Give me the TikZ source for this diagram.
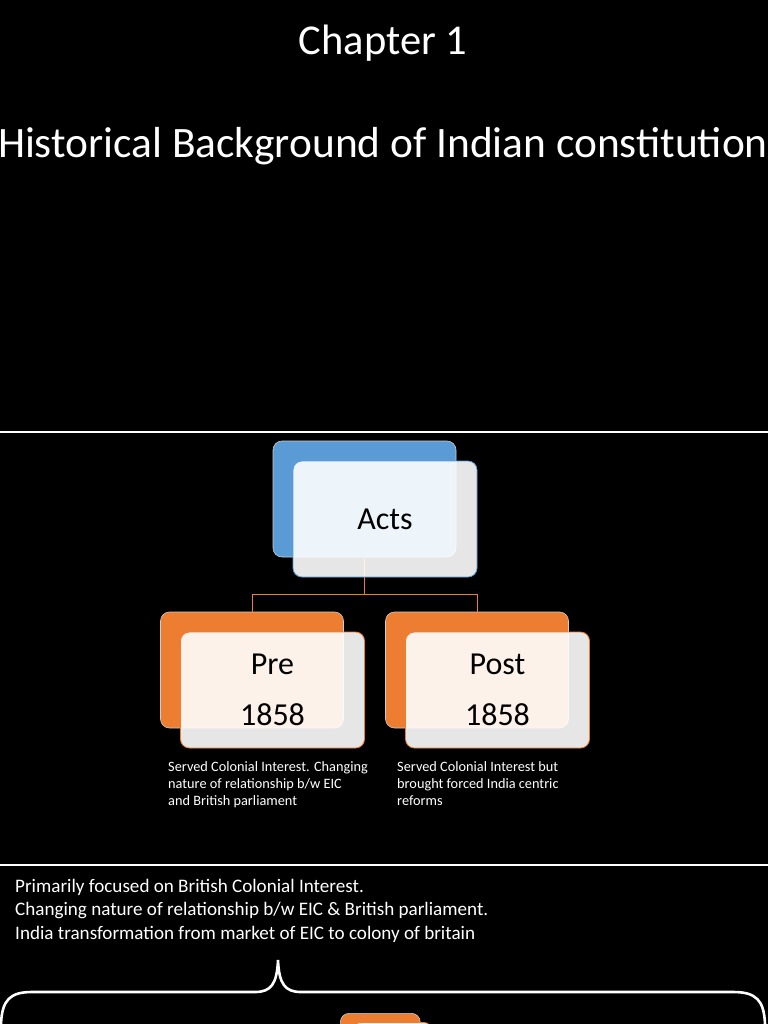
\documentclass[tikz,border=0pt]{standalone}
\usepackage{fontspec}
\setmainfont{Carlito}
\usetikzlibrary{positioning}
\definecolor{accentblue}{HTML}{5B9BD5}
\definecolor{accentorange}{HTML}{ED7D31}
\tikzstyle{backbox}=[rectangle,rounded corners=9pt,minimum width=183pt,minimum height=116pt,inner sep=0pt,draw=white!80!black,line width=0.6pt]
\tikzstyle{frontbox}=[rectangle,rounded corners=9pt,minimum width=184pt,minimum height=116pt,inner sep=0pt,fill=white,fill opacity=0.9,text opacity=1,line width=0.8pt,align=center,font=\fontsize{32}{51}\selectfont]
\tikzstyle{note}=[anchor=north west,inner sep=0pt,text=white,align=left,font=\fontsize{14.3}{17}\selectfont]
\tikzstyle{link}=[draw=accentorange,line width=0.9pt]
\tikzstyle{rule}=[draw=white,line width=1.3pt]

\begin{document}
\begin{tikzpicture}[x=1pt,y=-1pt]
\useasboundingbox (0,0) rectangle (768,1024);
\fill[black] (0,0) rectangle (768,1024);
\node[anchor=base,text=white,font=\fontsize{42.5}{50}\selectfont] (chapter) at (383,55) {Chapter 1};
\node[anchor=base,text=white,font=\fontsize{43.4}{50}\selectfont] (title) at (383,158) {Historical Background of Indian constitution};
\draw[rule] (0,432) -- (768,432);
\draw[rule] (0,865) -- (768,865);
% acts tree
\node[backbox,fill=accentblue] (actsback) at (364.5,499) {};
\node[backbox,fill=accentorange] (preback) at (252,670) {};
\node[backbox,fill=accentorange] (postback) at (477,670) {};
\coordinate (split) at ([shift={(0,37)}]actsback.south);
\draw[link] (actsback.south) -- (split) -| (preback.north);
\draw[link] (split) -| (postback.north);
\node[frontbox,draw=accentblue] (acts) at ([shift={(20.5,20)}]actsback) {Acts};
\node[frontbox,draw=accentorange] (pre) at ([shift={(20.5,20)}]preback) {Pre\\1858};
\node[frontbox,draw=accentorange] (post) at ([shift={(20.5,20)}]postback) {Post\\1858};
\node[note] (predesc) at (168,761) {Served Colonial Interest. Changing\\nature of relationship b/w EIC\\and British parliament};
\node[note] (postdesc) at (397,761) {Served Colonial Interest but\\brought forced India centric\\reforms};
% summary
\node[note,font=\fontsize{19.1}{23.5}\selectfont] (summary) at (15,879) {Primarily focused on British Colonial Interest.\\Changing nature of relationship b/w EIC \& British parliament.\\India transformation from market of EIC to colony of britain};
\draw[white,line width=2.6pt] (1,1024) .. controls (2,1000) and (10,992) .. (32,992) -- (255,992)
  .. controls (271,992) and (277,984) .. (278,960) .. controls (279,984) and (285,992) .. (301,992)
  -- (733,992) .. controls (756,992) and (764,1000) .. (765,1024);
\begin{scope}
\clip (0,0) rectangle (768,1024);
\node[backbox,fill=accentorange,minimum width=80pt,minimum height=60pt,anchor=north west] (nextback) at (340,1013) {};
\node[frontbox,draw=accentorange,minimum width=80pt,minimum height=60pt,anchor=north west] (next) at (352,1022) {};
\end{scope}
\end{tikzpicture}
\end{document}
